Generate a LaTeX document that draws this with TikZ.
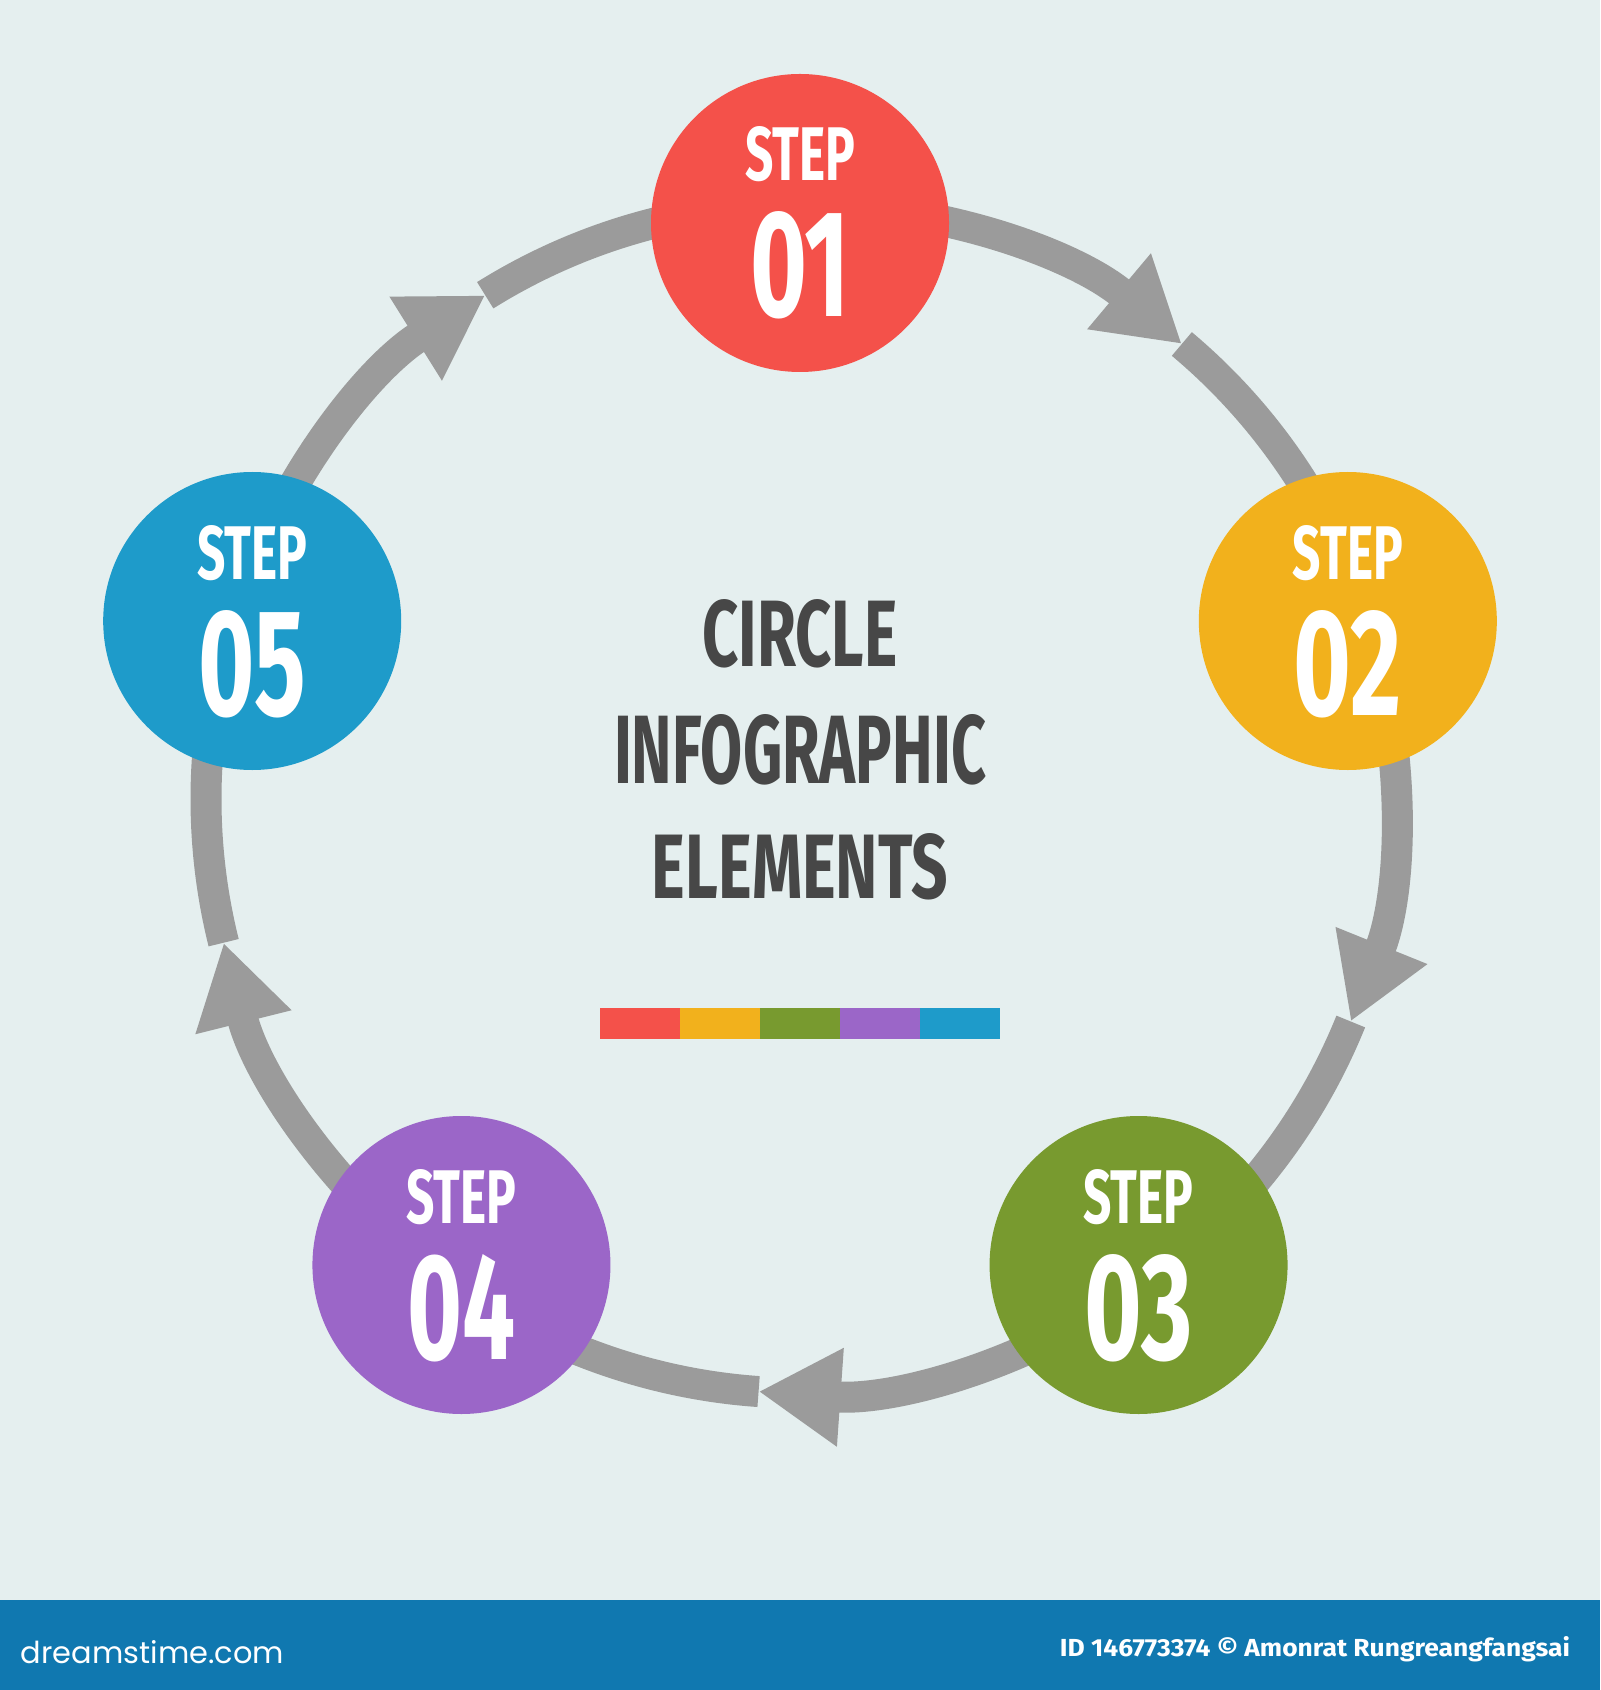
\documentclass[tikz,border=0pt]{standalone}
\usepackage{fontspec}
\setmainfont{Fira Sans}
\newfontfamily\logofont{Poppins}
\usetikzlibrary{arrows.meta}

\definecolor{bgpaper}{HTML}{E5EFEF}
\definecolor{ringgray}{HTML}{9B9B9B}
\definecolor{titlegray}{HTML}{474747}
\definecolor{stepred}{HTML}{F4514A}
\definecolor{stepyellow}{HTML}{F2B11C}
\definecolor{stepgreen}{HTML}{789A2F}
\definecolor{steppurple}{HTML}{9B66C8}
\definecolor{stepblue}{HTML}{1E9BCA}
\definecolor{footblue}{HTML}{1078B0}

% squeeze a bold word into a box of given width and cap height
\newcommand{\fitword}[3]{\resizebox{#1}{#2}{\bfseries #3}}

\tikzset{
  stepdisc/.style={circle, minimum size=2.98cm, inner sep=0pt},
  ringarc/.style={draw=ringgray, line width=3.1mm},
  ringhead/.style={-{Triangle[length=8.2mm, width=9.3mm]}},
  plain/.style={inner sep=0pt, outer sep=0pt, anchor=base},
}

\begin{document}
\begin{tikzpicture}
  \useasboundingbox (0,0) rectangle (16,-16.9);
  \fill[bgpaper] (0,0) rectangle (16,-16);
  \fill[footblue] (0,-16) rectangle (16,-16.9);

  \coordinate (c) at (8,-7.99);

  % ring of arrows, clockwise from step 01
  \foreach \a [evaluate=\a as \b using \a-40, evaluate=\a as \e using \a-72] in {90,18,-54,-126,-198}{
    \draw[ringarc, ringhead] ([shift={(\a:5.94)}]c) arc[start angle=\a, end angle=\b, radius=5.94];
    \draw[ringarc] ([shift={(\b:5.94)}]c) arc[start angle=\b, end angle=\e, radius=5.94];
  }

  % the five steps
  \foreach \n/\a/\col/\w in {01/90/stepred/1.00, 02/18/stepyellow/1.08,
      03/-54/stepgreen/1.08, 04/-126/steppurple/1.08, 05/162/stepblue/1.08}{
    \node[stepdisc, fill=\col] (s\n) at ([shift={(\a:5.76)}]c) {};
    \node[plain, text=white] (s\n-word) at ([yshift=4.2mm]s\n.center) {\fitword{1.10cm}{0.54cm}{STEP}};
    \node[plain, text=white] (s\n-num) at ([yshift=-9.4mm]s\n.center) {\fitword{\w cm}{1.05cm}{\n}};
  }

  % title
  \node[plain, text=titlegray] (t1) at (8,-6.67) {\fitword{1.95cm}{0.67cm}{CIRCLE}};
  \node[plain, text=titlegray] (t2) at (8,-7.83) {\fitword{3.72cm}{0.69cm}{INFOGRAPHIC}};
  \node[plain, text=titlegray] (t3) at (8,-8.98) {\fitword{2.96cm}{0.65cm}{ELEMENTS}};

  % colour strip
  \foreach \col [count=\i from 0] in {stepred,stepyellow,stepgreen,steppurple,stepblue}
    \fill[\col] (6+0.8*\i,-10.08) rectangle ++(0.8,-0.31);

  % footer
  \node[plain, anchor=base west, text=white] (logo) at (0.21,-16.63) {\resizebox{2.63cm}{0.23cm}{\logofont dreamstime.com}};
  \node[plain, anchor=base east, text=white] (credit) at (15.70,-16.56) {\fitword{5.10cm}{0.20cm}{ID 146773374 © Amonrat Rungreangfangsai}};
\end{tikzpicture}
\end{document}
